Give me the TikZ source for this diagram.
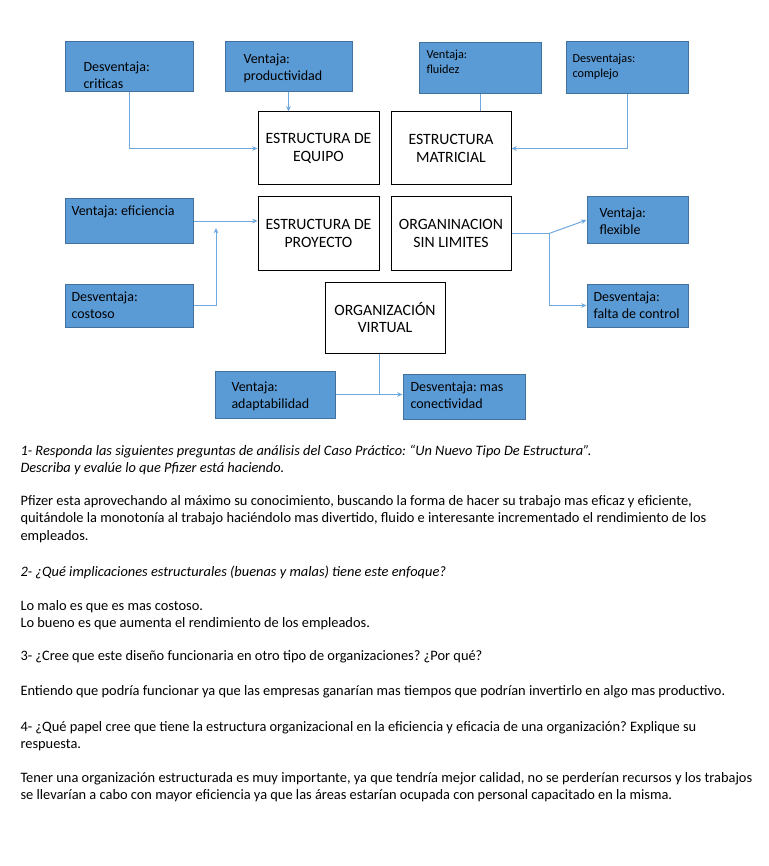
\documentclass[tikz,border=0pt]{standalone}
\usepackage{fontspec}
\setmainfont{Carlito}
\usetikzlibrary{arrows.meta,fit,positioning}
\definecolor{panelblue}{HTML}{5B9BD5}
\definecolor{panelline}{HTML}{41719C}
\definecolor{linkblue}{HTML}{6FA8DC}
\frenchspacing

\begin{document}
\begin{tikzpicture}[
    x = 0.75pt, y = -0.75pt, % one unit = one pixel of the page
    > = {Stealth[length=4pt, width=3.5pt]}, % arrow head style
    line width = 0.75pt
    ]

    \tikzset{
    panel/.style = {draw = panelline, fill = panelblue, inner sep = 0pt},
    unit/.style = {draw = black, fill = white, inner sep = 0pt},
    unittext/.style = {align = center, inner sep = 0pt,
                   font = \fontsize{11.8}{12.9}\selectfont},
    tag/.style = {anchor = west, align = left, inner sep = 0pt,
                  font = \fontsize{10.5}{12.9}\selectfont},
    smalltag/.style = {tag, font = \fontsize{9.2}{11.2}\selectfont},
    para/.style = {anchor = west, align = left, inner sep = 0pt,
                   font = \fontsize{10.8}{12.9}\selectfont},
    ask/.style = {para, font = \fontsize{10.8}{12.9}\selectfont\itshape},
    link/.style = {draw = linkblue},
    conn/.style = {link, ->}
    }
    \useasboundingbox (0,0) rectangle (768,866);

    % structures
    \node[unit, fit={(258,112) (379,185)}] (equipo) {};
    \node[unittext] (equipot) at (equipo.center) {ESTRUCTURA DE\\EQUIPO};
    \node[unit, fit={(391,112) (511,185)}] (matricial) {};
    \node[unittext] (matricialt) at (matricial.center) {ESTRUCTURA\\MATRICIAL};
    \node[unit, fit={(258,197) (379,270)}] (proyecto) {};
    \node[unittext] (proyectot) at (proyecto.center) {ESTRUCTURA DE\\PROYECTO};
    \node[unit, fit={(391,197) (511,270)}] (sinlim) {};
    \node[unittext] (sinlimt) at (sinlim.center) {ORGANINACION\\SIN LIMITES};
    \node[unit, fit={(325,282) (445,353)}] (virtual) {};
    \node[unittext] (virtualt) at (virtual.center) {ORGANIZACIÓN\\VIRTUAL};

    % pros and cons
    \node[panel, fit={(65,42) (193,92)}] (crit) {};
    \node[tag] (critt) at (83,75) {Desventaja:\\criticas};
    \node[panel, fit={(225,42) (352,92)}] (prod) {};
    \node[tag] (prodt) at (243,68) {Ventaja:\\productividad};
    \node[panel, fit={(419,43) (541,94)}] (flu) {};
    \node[smalltag] (flut) at (426,62) {Ventaja:\\fluidez};
    \node[panel, fit={(566,42) (688,94)}] (comp) {};
    \node[smalltag] (compt) at (572,67) {Desventajas:\\complejo};

    \node[panel, fit={(65,199) (193,243)}] (efi) {};
    \node[tag] (efit) at (71,212) {Ventaja: eficiencia};
    \node[panel, fit={(65,284) (193,327)}] (cost) {};
    \node[tag] (costt) at (71,305) {Desventaja:\\costoso};
    \node[panel, fit={(587,197) (688,243)}] (flex) {};
    \node[tag] (flext) at (599,221) {Ventaja:\\flexible};
    \node[panel, fit={(587,284) (688,327)}] (falta) {};
    \node[tag] (faltat) at (593,305) {Desventaja:\\falta de control};
    \node[panel, fit={(215,371) (335,418)}] (adapt) {};
    \node[tag] (adaptt) at (231,396) {Ventaja:\\adaptabilidad};
    \node[panel, fit={(403,374) (525,419)}] (conec) {};
    \node[tag] (conect) at (410,395) {Desventaja: mas\\conectividad};

    \coordinate (join) at (216,228);
    \coordinate (split) at (549,233.5);
    \coordinate (meet) at (379,395);

    \draw[conn] (crit.south) |- (equipo.west);
    \draw[conn] (prod.south) -- (prod.south |- equipo.north);
    \draw[link] (flu.south) -- (flu.south |- matricial.north);
    \draw[conn] (comp.south) |- (matricial.east);
    \draw[conn] (efi.east) -- (efi.east -| proyecto.west);
    \draw[conn] (cost.east) -| (join);
    \draw[link] (sinlim.east) -- (split);
    \draw[conn] (split) -- (flex.west);
    \draw[conn] (split) |- (falta.west);
    \draw[link] (meet |- virtual.south) -- (meet);
    \draw[conn] (adapt.east) -- (adapt.east -| conec.west);

    % questions and answers
    \node[ask] (q1) at (20,460) {1- Responda las siguientes preguntas de análisis del Caso Práctico: “Un Nuevo Tipo De Estructura”.\\Describa y evalúe lo que Pfizer está haciendo.};
    \node[para] (a1) at (20,519) {Pfizer esta aprovechando al máximo su conocimiento, buscando la forma de hacer su trabajo mas eficaz y eficiente,\\quitándole la monotonía al trabajo haciéndolo mas divertido, fluido e interesante incrementado el rendimiento de los\\empleados.};
    \node[ask] (q2) at (20,572) {2- ¿Qué implicaciones estructurales (buenas y malas) tiene este enfoque?};
    \node[para] (a2) at (20,615) {Lo malo es que es mas costoso.\\Lo bueno es que aumenta el rendimiento de los empleados.};
    \node[para] (q3) at (20,657) {3- ¿Cree que este diseño funcionaria en otro tipo de organizaciones? ¿Por qué?};
    \node[para] (a3) at (20,692) {Entiendo que podría funcionar ya que las empresas ganarían mas tiempos que podrían invertirlo en algo mas productivo.};
    \node[para] (q4) at (20,736) {4- ¿Qué papel cree que tiene la estructura organizacional en la eficiencia y eficacia de una organización? Explique su\\respuesta.};
    \node[para] (a4) at (20,787) {Tener una organización estructurada es muy importante, ya que tendría mejor calidad, no se perderían recursos y los trabajos\\se llevarían a cabo con mayor eficiencia ya que las áreas estarían ocupada con personal capacitado en la misma.};
\end{tikzpicture}
\end{document}
